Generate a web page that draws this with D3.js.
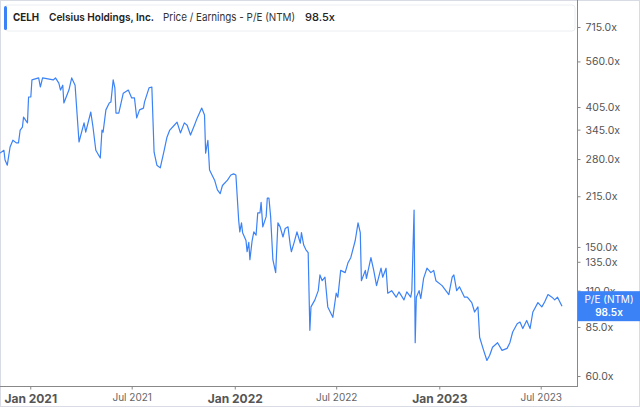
<!DOCTYPE html>
<html><head><meta charset="utf-8">
<script src="https://cdn.jsdelivr.net/npm/d3@7"></script>
<style>body{margin:0;background:#fff}svg{display:block;font-family:Inter,"Noto Sans",sans-serif}</style>
</head><body><svg id="c" width="640" height="407"></svg>
<script>
const dates = ["2020-11-08","2020-11-15","2020-11-17","2020-11-21","2020-11-26","2020-12-01","2020-12-07","2020-12-11","2020-12-14","2020-12-18","2020-12-20","2020-12-27","2020-12-29","2021-01-02","2021-01-04","2021-01-16","2021-01-19","2021-01-23","2021-02-11","2021-02-15","2021-02-21","2021-02-24","2021-02-28","2021-03-02","2021-03-11","2021-03-16","2021-03-22","2021-03-29","2021-04-07","2021-04-10","2021-04-19","2021-04-23","2021-04-28","2021-05-06","2021-05-09","2021-05-11","2021-05-16","2021-05-22","2021-05-25","2021-05-29","2021-06-01","2021-06-03","2021-06-08","2021-06-16","2021-06-25","2021-07-01","2021-07-06","2021-07-10","2021-07-15","2021-07-22","2021-07-24","2021-08-01","2021-08-06","2021-08-10","2021-08-15","2021-08-21","2021-08-28","2021-09-02","2021-09-07","2021-09-15","2021-09-20","2021-09-26","2021-10-03","2021-10-08","2021-10-14","2021-10-21","2021-10-26","2021-11-03","2021-11-08","2021-11-10","2021-11-14","2021-11-17","2021-11-26","2021-12-01","2021-12-06","2021-12-10","2021-12-19","2021-12-25","2021-12-30","2022-01-03","2022-01-08","2022-01-10","2022-01-13","2022-01-15","2022-01-21","2022-01-23","2022-01-26","2022-01-28","2022-02-01","2022-02-04","2022-02-08","2022-02-11","2022-02-15","2022-02-17","2022-02-20","2022-02-26","2022-02-28","2022-03-03","2022-03-06","2022-03-10","2022-03-15","2022-03-19","2022-03-23","2022-03-28","2022-04-01","2022-04-06","2022-04-10","2022-04-12","2022-04-17","2022-04-22","2022-04-28","2022-04-30","2022-05-04","2022-05-08","2022-05-12","2022-05-15","2022-05-17","2022-05-24","2022-05-30","2022-06-02","2022-06-06","2022-06-11","2022-06-16","2022-06-25","2022-07-01","2022-07-04","2022-07-09","2022-07-17","2022-07-22","2022-07-27","2022-08-04","2022-08-09","2022-08-13","2022-08-15","2022-08-22","2022-08-24","2022-09-01","2022-09-06","2022-09-11","2022-09-19","2022-09-22","2022-09-28","2022-10-01","2022-10-08","2022-10-16","2022-10-21","2022-10-30","2022-11-04","2022-11-11","2022-11-13","2022-11-17","2022-11-19","2022-11-21","2022-11-26","2022-11-29","2022-12-04","2022-12-10","2022-12-17","2022-12-22","2022-12-26","2023-01-06","2023-01-18","2023-01-24","2023-01-27","2023-02-01","2023-02-06","2023-02-15","2023-02-20","2023-02-28","2023-03-05","2023-03-11","2023-03-14","2023-03-20","2023-03-27","2023-04-01","2023-04-06","2023-04-15","2023-04-23","2023-05-02","2023-05-07","2023-05-12","2023-05-20","2023-05-25","2023-05-30","2023-06-06","2023-06-12","2023-06-17","2023-06-26","2023-07-03","2023-07-08","2023-07-14","2023-07-21","2023-07-26","2023-07-31","2023-08-08"];
const peValues = [292,298,278,268,305,320,314,314,344,351,377,362,435,435,491,498,467,498,491,498,480,457,473,417,457,498,473,316,362,339,391,351,298,282,344,339,397,417,420,491,464,388,388,447,457,432,432,375,397,402,420,464,467,294,268,263,298,327,344,356,364,337,362,356,332,356,375,402,383,292,320,259,241,225,219,232,241,250,252,250,181,167,178,166,157,145,155,137,157,167,163,191,191,206,173,186,212,212,186,137,125,178,173,161,171,173,152,145,155,167,154,166,152,147,144,83,98,103,110,123,118,121,98,91,108,105,127,125,134,139,157,178,166,118,127,120,139,127,114,129,121,129,108,110,105,109,103,109,105,110,195,76,105,110,104,120,129,125,127,118,114,107,121,123,110,113,105,105,101,94.5,98,79,73,67,69.5,73.6,76,72,73,76,82,87,88,84,89,84,94.5,101,98,101.5,107,105,103,105,98.5];
const yTicks = [60,85,110,135,150,215,280,345,405,560,715];
const xTicks = [["2021-01-01","Jan 2021",true],["2021-07-01","Jul 2021",false],["2022-01-01","Jan 2022",true],["2022-07-01","Jul 2022",false],["2023-01-01","Jan 2023",true],["2023-07-01","Jul 2023",false]];
const header = {ticker:"CELH", name:"Celsius Holdings, Inc.", metric:"Price / Earnings - P/E (NTM)", last:"98.5x"};

const parse = d3.timeParse("%Y-%m-%d");
const data = dates.map((d,i)=>({d:parse(d), v:peValues[i]}));
const svg = d3.select("#c");
const blue = "#3b82f6";
const x = d3.scaleTime().domain([parse("2020-11-08"), parse("2023-08-08")]).range([0,562]);
const y = d3.scaleLog().domain([60,715]).range([376,27]);

svg.append("rect").attr("x",0.5).attr("y",0.5).attr("width",639).attr("height",406).attr("fill","none").attr("stroke","#d8dbe3");
svg.append("rect").attr("x",5).attr("y",5).attr("width",570).attr("height",26).attr("rx",3).attr("fill","#fff").attr("stroke","#eceef2");
svg.append("rect").attr("x",4).attr("y",6).attr("width",3).attr("height",24).attr("rx",1.5).attr("fill",blue);
const hdr = [[13,26,header.ticker,700,"#222"],[49,105,header.name,600,"#222"],[163,132,header.metric,400,"#333"],[305,30,header.last,500,"#222"]];
hdr.forEach(h=>svg.append("text").attr("x",h[0]).attr("y",21).attr("font-size",11).attr("font-weight",h[3]).attr("fill",h[4])
  .attr("textLength",h[1]).attr("lengthAdjust","spacingAndGlyphs").text(h[2]));

svg.append("line").attr("x1",577.5).attr("x2",577.5).attr("y1",0).attr("y2",386).attr("stroke","#888");
svg.append("line").attr("x1",0).attr("x2",578).attr("y1",386.5).attr("y2",386.5).attr("stroke","#888");

const ya = svg.append("g").attr("transform","translate(577.5,0)")
  .call(d3.axisRight(y).tickValues(yTicks).tickSize(3).tickPadding(5).tickFormat(d=>d.toFixed(1)+"x"));
ya.select(".domain").remove();
ya.selectAll("text").attr("font-size",10.5).attr("fill","#555").attr("font-family","Inter,sans-serif");
ya.selectAll("line").attr("stroke","#888");

const xa = svg.append("g").attr("transform","translate(0,386.5)")
  .call(d3.axisBottom(x).tickValues(xTicks.map(t=>parse(t[0]))).tickSize(3).tickFormat((d,i)=>xTicks[i][1]));
xa.select(".domain").remove();
xa.selectAll("line").attr("stroke","#888");
xa.selectAll("text").attr("font-family","Inter,sans-serif")
  .attr("font-size",(d,i)=>xTicks[i][2]?12:10).attr("font-weight",(d,i)=>xTicks[i][2]?700:400)
  .attr("fill",(d,i)=>xTicks[i][2]?"#555":"#666").attr("dy",(d,i)=>xTicks[i][2]?"0.9em":"0.85em");

svg.append("path").datum(data).attr("fill","none").attr("stroke",blue).attr("stroke-width",1.2)
  .attr("stroke-linejoin","round").attr("d",d3.line().x(d=>x(d.d)).y(d=>y(d.v)));

const last = data[data.length-1];
const ly = y(last.v);
svg.append("rect").attr("x",578).attr("y",ly-15).attr("width",62).attr("height",30).attr("fill",blue);
svg.append("text").attr("x",609).attr("y",ly-3).attr("text-anchor","middle").attr("font-size",10).attr("fill","#fff").text("P/E (NTM)");
svg.append("text").attr("x",609).attr("y",ly+10).attr("text-anchor","middle").attr("font-size",10).attr("font-weight",600).attr("fill","#fff").text(last.v+"x");
</script></body></html>
